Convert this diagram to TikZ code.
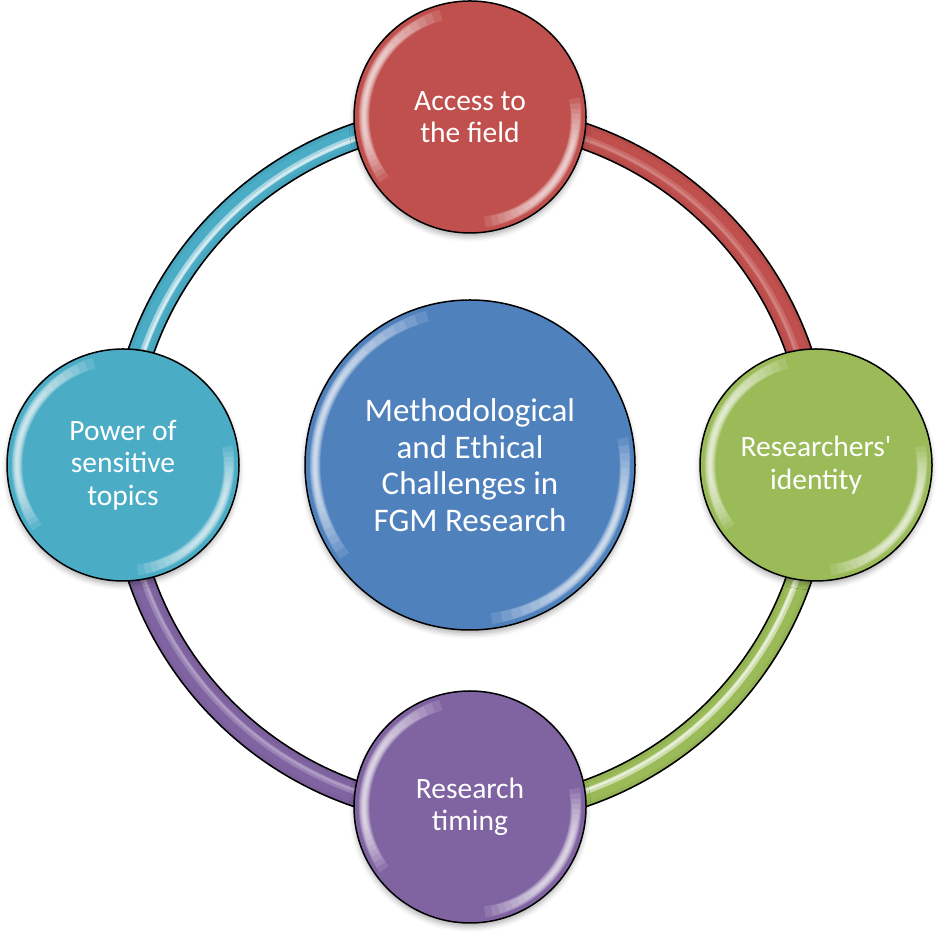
\documentclass[tikz,border=0pt]{standalone}
\usepackage{fontspec}
\setmainfont{Carlito}
\usetikzlibrary{shadows.blur}
\definecolor{cRed}{HTML}{C0504D}
\definecolor{cGreen}{HTML}{9BBB59}
\definecolor{cPurple}{HTML}{8064A2}
\definecolor{cCyan}{HTML}{4BACC6}
\definecolor{cBlue}{HTML}{4F81BD}
\newcommand\glossy[2]{%
  \foreach \i in {0,...,9}{%
    \pgfmathsetmacro\w{11-1.0*\i}%
    \pgfmathsetmacro\a{106+4.4*\i}%
    \pgfmathsetmacro\b{216-3.0*\i}%
    \pgfmathsetmacro\c{-82+3.8*\i}%
    \pgfmathsetmacro\d{10-2.8*\i}%
    \draw[white, line width=\w pt, opacity=0.12, line cap=butt]
      ([shift={(\a:{#2pt-10pt})}]#1.center) arc[start angle=\a, end angle=\b, radius={#2pt-10pt}];
    \draw[white, line width=\w pt, opacity=0.12, line cap=butt]
      ([shift={(\c:{#2pt-10pt})}]#1.center) arc[start angle=\c, end angle=\d, radius={#2pt-10pt}];
  }%
}
\newcommand\ringseg[4]{%
  \draw[black, line width=27pt] ([shift={(#2:348pt)}]ctr.center) arc[start angle=#2, end angle=#3, radius=348pt];
  \draw[#1, line width=23.5pt] ([shift={(#2:348pt)}]ctr.center) arc[start angle=#2, end angle=#3, radius=348pt];
  \draw[#1!80!black, line width=23.5pt, opacity=0.2] ([shift={(#2:348pt)}]ctr.center) arc[start angle=#2, end angle=#3, radius=348pt];
  \draw[#1, line width=17pt] ([shift={(#2:348pt)}]ctr.center) arc[start angle=#2, end angle=#3, radius=348pt];
  \draw[white, line width=6pt, opacity=#4] ([shift={(#2:346pt)}]ctr.center) arc[start angle=#2, end angle=#3, radius=346pt];
  \draw[white, line width=2.5pt, opacity=#4] ([shift={(#2:345pt)}]ctr.center) arc[start angle=#2, end angle=#3, radius=345pt];
}
\begin{document}
\begin{tikzpicture}[x=1pt,y=1pt,
  bubble/.style={circle, draw=black, line width=1.5pt, inner sep=0pt, text=white, align=center,
     blur shadow={shadow xshift=0pt, shadow yshift=-4pt, shadow blur radius=5pt, shadow opacity=30}},
  sat/.style={bubble, minimum size=232pt, font=\fontsize{29.5}{32.5}\selectfont},
  hub/.style={bubble, minimum size=330pt, font=\fontsize{33}{36.6}\selectfont}]
\useasboundingbox (0,0) rectangle (940,941);
\coordinate (ctr) at (470,476);
% ring
\ringseg{cRed}{90}{0}{0.15}
\ringseg{cGreen}{0}{-90}{0.5}
\ringseg{cPurple}{270}{180}{0.2}
\ringseg{cCyan}{180}{90}{0.5}
% circles
\node[hub, fill=cBlue] (hubn) at (470,476) {Methodological\\and Ethical\\Challenges in\\FGM Research};
\node[sat, fill=cRed] (top) at ([shift={(90:348pt)}]ctr) {Access to\\the field};
\node[sat, fill=cGreen] (right) at ([shift={(0:346pt)}]ctr) {Researchers\textquotesingle\\identity};
\node[sat, fill=cPurple] (bottom) at ([shift={(270:342pt)}]ctr) {Research\\timing};
\node[sat, fill=cCyan] (left) at ([shift={(180:347pt)}]ctr) {Power of\\sensitive\\topics};
\glossy{hubn}{165}
\glossy{top}{116}
\glossy{right}{116}
\glossy{bottom}{116}
\glossy{left}{116}
\end{tikzpicture}
\end{document}
